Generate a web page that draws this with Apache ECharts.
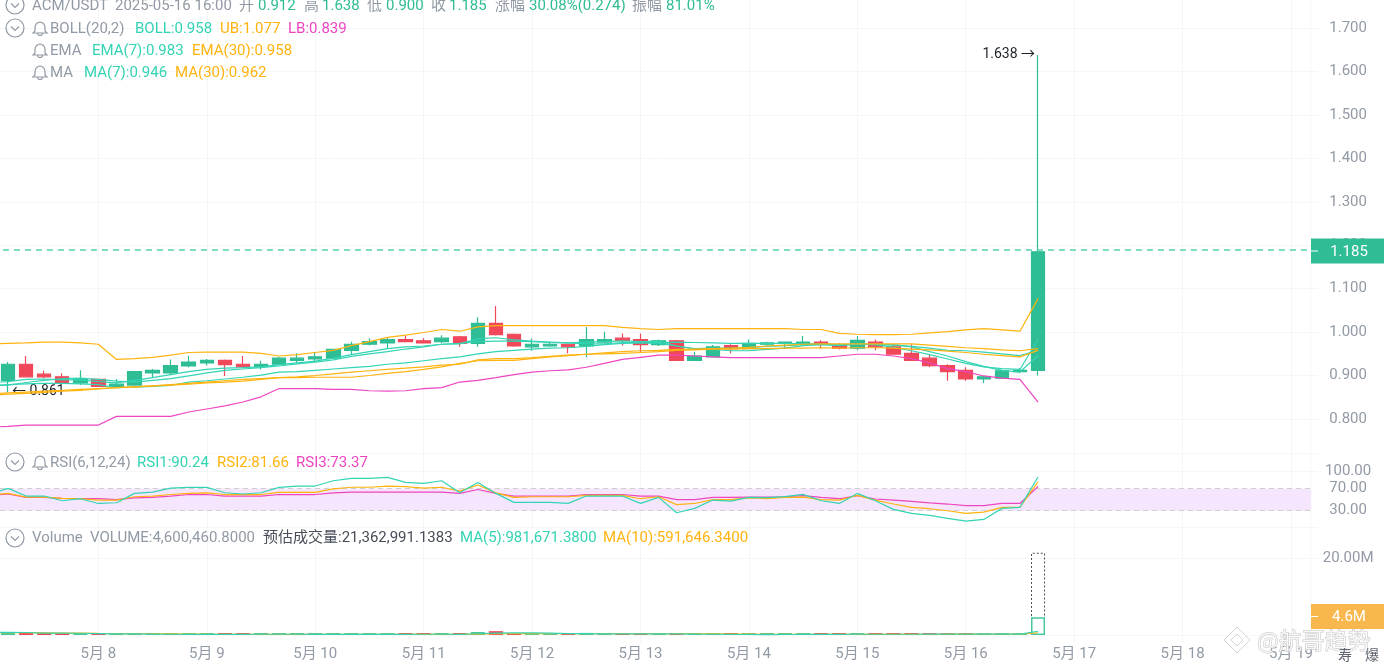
<!DOCTYPE html>
<html>
<head>
<meta charset="utf-8">
<style>html,body{margin:0;padding:0;background:#fff}#main{width:1384px;height:666px}</style>
<script src="https://cdn.jsdelivr.net/npm/echarts@6/dist/echarts.min.js"></script>
</head>
<body>
<div id="main"></div>
<script>
// 4h candles, first one sits just off the left edge
var days = [7, 8, 9, 10, 11, 12, 13, 14, 15, 16, 17, 18, 19];
var opens = [.880,
  .889,.926,.903,.897,.883,.891,.875,.878,.906,.906,
  .922,.929,.935,.926,.921,.926,.935,.938,.940,.958,
  .972,.975,.983,.980,.978,.989,.974,1.020,.995,.966,
  .968,.972,.968,.977,.986,.983,.971,.980,.935,.943,
  .969,.962,.972,.974,.972,.977,.971,.963,.977,.966,
  .951,.940,.923,.912,.892,.894,.909,.912];
var closes = [.889,
  .926,.897,.897,.883,.891,.875,.880,.909,.912,.923,
  .931,.935,.925,.920,.926,.940,.940,.943,.960,.972,
  .978,.983,.978,.975,.986,.974,1.020,.994,.968,.972,
  .972,.966,.983,.983,.981,.971,.980,.935,.945,.966,
  .962,.974,.975,.977,.977,.972,.963,.981,.966,.949,
  .935,.923,.909,.892,.897,.911,.912,1.185];
var lows = [.876,
  .861,.897,.894,.882,.878,.874,.872,.877,.895,.903,
  .919,.923,.899,.919,.914,.926,.929,.931,.939,.949,
  .969,.962,.977,.974,.975,.966,.966,.992,.966,.957,
  .966,.951,.942,.975,.969,.952,.968,.935,.934,.942,
  .951,.962,.969,.962,.969,.962,.960,.958,.958,.949,
  .935,.919,.888,.888,.883,.893,.905,.900];
var highs = [.892,
  .931,.945,.911,.905,.912,.892,.892,.909,.915,.937,
  .945,.938,.937,.945,.934,.943,.951,.954,.961,.978,
  .986,.988,.992,.986,.993,.991,1.034,1.060,.997,.985,
  .978,.974,1.012,1.001,.997,.997,.983,.982,.955,.970,
  .972,.983,.978,.978,.991,.981,.975,.991,.983,.972,
  .972,.947,.926,.919,.899,.914,.917,1.638];

var bollUb = [.973,
  .974,.975,.977,.977,.975,.972,.937,.939,.942,.947,
  .953,.954,.954,.954,.951,.945,.948,.953,.958,.969,
  .978,.988,.993,.999,1.006,1.002,1.012,1.015,1.015,1.015,
  1.015,1.015,1.015,1.015,1.011,1.008,1.006,1.008,1.008,1.008,
  1.008,1.008,1.008,1.008,1.006,1.006,.997,.995,.994,.994,
  .995,.998,1.001,1.005,1.008,1.005,1.002,1.077];
var bollLb = [.781,
  .783,.786,.786,.786,.786,.786,.806,.806,.806,.806,
  .816,.823,.830,.839,.851,.870,.870,.870,.868,.868,
  .865,.864,.865,.870,.872,.885,.889,.895,.902,.908,
  .911,.913,.919,.928,.937,.942,.947,.947,.945,.943,
  .941,.941,.941,.941,.941,.941,.945,.949,.949,.945,
  .939,.929,.916,.909,.899,.894,.891,.839];
var bollMid = [.877,
  .879,.881,.882,.882,.881,.879,.872,.873,.875,.877,
  .885,.888,.892,.896,.901,.908,.909,.912,.915,.918,
  .921,.926,.929,.934,.939,.943,.950,.955,.958,.961,
  .963,.964,.967,.971,.974,.975,.976,.977,.976,.975,
  .974,.974,.974,.974,.973,.973,.971,.972,.971,.970,
  .967,.963,.958,.957,.954,.950,.946,.958];
var ema7 = [.884,
  .886,.891,.892,.890,.890,.886,.883,.889,.895,.902,
  .909,.914,.917,.918,.920,.925,.929,.933,.940,.948,
  .955,.962,.966,.968,.972,.973,.985,.987,.982,.979,
  .977,.975,.977,.978,.980,.978,.979,.968,.962,.963,
  .963,.965,.967,.969,.971,.971,.969,.972,.971,.965,
  .957,.948,.938,.928,.920,.916,.914,.983];
var ma7 = [.876,
  .878,.884,.889,.893,.894,.891,.887,.885,.889,.893,
  .899,.906,.912,.915,.918,.922,.927,.931,.936,.944,
  .950,.955,.961,.966,.972,.974,.978,.979,.979,.978,
  .976,.975,.973,.973,.976,.975,.974,.968,.961,.960,
  .957,.957,.960,.963,.969,.971,.971,.972,.972,.971,
  .966,.955,.945,.932,.921,.912,.908,.946];
var ema30 = [.858,
  .860,.862,.864,.866,.868,.870,.872,.874,.876,.879,
  .882,.885,.888,.891,.893,.895,.897,.900,.904,.908,
  .911,.914,.917,.920,.924,.926,.936,.939,.939,.941,
  .944,.947,.949,.950,.951,.953,.955,.958,.959,.961,
  .961,.962,.962,.963,.963,.964,.963,.964,.964,.963,
  .961,.959,.956,.953,.949,.946,.943,.958];
var ma30 = [.855,
  .857,.859,.861,.864,.866,.869,.872,.874,.876,.878,
  .880,.883,.885,.887,.891,.895,.895,.896,.896,.896,
  .900,.905,.909,.914,.920,.928,.934,.935,.935,.939,
  .943,.946,.949,.952,.955,.957,.958,.960,.961,.962,
  .963,.965,.968,.970,.972,.973,.973,.973,.973,.973,
  .973,.970,.967,.964,.962,.959,.957,.962];

var rsi1 = [60,
  70,56.3,56.3,47.9,51.5,43,44.3,61,63.4,70.6,
  71.8,71.8,62.2,59.9,62.2,71.8,74.2,74.2,83.7,87.9,
  87.9,89.7,80.7,79,83.7,62.2,80.7,61,44.9,44.9,
  44.9,43.1,56.3,56.3,56.3,43.1,53.9,26.4,34.2,49.1,
  47.3,53.9,53.3,55.1,59.3,47.9,43.1,61,47.9,32.4,
  25.2,21.6,16.3,11.5,14.5,34.2,36,90.24];
var rsi2 = [58,
  61,54.5,54.5,52,51.5,49,49,55,56,59,
  61,62,59,59,59,63,63,63,69,72,
  72,74,73,70.6,72,65,76,62,54,55,
  55,55,57.5,57.5,57.5,51.5,55,41,43,50,
  50,53,51.5,54,54.5,50,49,57.5,49,42,
  36,33.6,30,25.2,27.6,36,36.5,81.66];
var rsi3 = [57,
  60,54,54,52,51.5,51.5,50,53,54,56,
  59,59,56,56,56,59,59,59,62,63.4,
  63.4,63.4,63.4,63.4,63.4,61,68,61,56,56,
  56,56,59,59,59,56,56,50,50,54,
  54,54.5,54.5,55,57,54,51.5,57,51,49,
  46.7,44,42,39,39,43,43,73.37];

// volume in millions
var volume = [.5,
  .5,.65,.35,.3,.25,.35,.28,.25,.12,.15,
  .1,.15,.2,.25,.15,.2,.15,.15,.18,.2,
  .18,.15,.2,.22,.15,.2,.8,1.0,.3,.18,
  .15,.2,.55,.25,.2,.25,.2,.3,.15,.1,
  .1,.1,.12,.15,.18,.2,.2,.18,.2,.18,
  .22,.22,.25,.25,.2,.2,.2,4.6];
var volEstimate = 21.36;
var volMa5 = [.7,
  .7,.65,.5,.48,.45,.38,.3,.28,.24,.2,
  .18,.16,.15,.17,.19,.2,.19,.17,.17,.18,
  .18,.18,.18,.19,.19,.18,.32,.48,.53,.53,
  .5,.38,.35,.27,.3,.28,.28,.27,.24,.19,
  .16,.13,.12,.13,.14,.16,.18,.19,.19,.2,
  .2,.22,.23,.23,.23,.23,.22,.98];
var volMa10 = [.6,
  .6,.6,.55,.5,.47,.42,.38,.34,.32,.3,
  .25,.22,.2,.18,.17,.17,.17,.17,.17,.18,
  .18,.18,.18,.18,.18,.18,.24,.32,.34,.35,
  .35,.35,.36,.37,.38,.38,.38,.37,.33,.3,
  .26,.23,.2,.18,.17,.16,.16,.16,.16,.17,
  .18,.2,.21,.21,.21,.22,.22,.59];

var GREEN = '#2ebd94', RED = '#f0485a', TEAL = '#33d4b4', ORANGE = '#ffb30f', PINK = '#ee45c0';
var GRAY = '#929aa5', GRID = '#f5f6f7', DARK = '#1e2329';
var FONT = 'Roboto, "Noto Sans CJK SC", sans-serif';

var categories = [];
days.forEach(function (d) {
  for (var h = 0; h < 6; h++) categories.push(h === 0 ? '5月 ' + d : d + '-' + h);
});
categories = categories.slice(0, 74);

function dayTick(i) { return i > 0 && i % 6 === 0; }

var candles = opens.map(function (o, i) { return [o, closes[i], lows[i], highs[i]]; });
var volBars = volume.map(function (v, i) {
  var up = closes[i] >= opens[i];
  return {
    value: v,
    itemStyle: up ? {color: '#fff', borderColor: '#49c6a2', borderWidth: 1.5} : {color: RED}
  };
});
var estimate = volume.map(function (v, i) { return i === volume.length - 1 ? volEstimate : '-'; });

function xAxis(grid, show) {
  return {
    type: 'category', gridIndex: grid, data: categories, boundaryGap: true,
    axisLine: {show: show, lineStyle: {color: GRID}},
    axisTick: {show: false},
    axisLabel: {show: show, interval: dayTick, color: GRAY, fontSize: 15, fontFamily: FONT, margin: 4},
    splitLine: {show: true, alignWithLabel: true, interval: dayTick, lineStyle: {color: GRID}}
  };
}

function yAxis(grid, o) {
  return Object.assign({
    type: 'value', gridIndex: grid, position: 'right', scale: false,
    axisLine: {show: false}, axisTick: {show: false},
    splitLine: {show: true, lineStyle: {color: GRID}}
  }, o);
}

function label(fmt, extra) {
  return Object.assign({
    color: GRAY, fontSize: 15, fontFamily: FONT, align: 'center', margin: 30, formatter: fmt
  }, extra || {});
}

function line(name, data, color, xi, width) {
  return {
    name: name, type: 'line', xAxisIndex: xi, yAxisIndex: xi, data: data, symbol: 'none',
    silent: true, lineStyle: {color: color, width: width || 1.2}, z: 5
  };
}

// header rows
function text(x, y, str, color) {
  return {
    type: 'text', x: x, y: y + 1, z: 100, silent: true,
    style: {text: str, fill: color || GRAY, font: '15px ' + FONT, verticalAlign: 'middle'}
  };
}
function chevron(y) {
  return {
    type: 'group', x: 15, y: y, silent: true, children: [
      {type: 'circle', z: 100, shape: {cx: 0, cy: 0, r: 9}, style: {fill: 'none', stroke: GRAY, lineWidth: 1.2}},
      {type: 'polyline', z: 100, shape: {points: [[-4, -1.5], [0, 2.5], [4, -1.5]]}, style: {fill: 'none', stroke: GRAY, lineWidth: 1.2}}
    ]
  };
}
function bell(y) {
  return {
    type: 'group', x: 40, y: y, silent: true, children: [
      {type: 'polygon', z: 100, shape: {points: [[-7, 5], [-5, 3], [-5, -1], [-4, -4], [-2, -5.5], [0, -6], [2, -5.5], [4, -4], [5, -1], [5, 3], [7, 5]]},
        style: {fill: 'none', stroke: GRAY, lineWidth: 1.2}},
      {type: 'arc', z: 100, shape: {cx: 0, cy: 5, r: 2.5, startAngle: 0, endAngle: Math.PI, clockwise: true},
        style: {fill: 'none', stroke: GRAY, lineWidth: 1.2}}
    ]
  };
}
function tag(y, h, color, str) {
  return {
    type: 'group', x: 1311, y: y, silent: true, children: [
      {type: 'rect', z: 100, shape: {x: 0, y: -h / 2, width: 73, height: h}, style: {fill: color}},
      {type: 'line', z: 101, shape: {x1: 0, y1: 0, x2: 7, y2: 0}, style: {stroke: '#fff', lineWidth: 1}},
      {type: 'text', z: 101, x: 38, y: 1, style: {text: str, fill: '#fff', font: '15px ' + FONT, align: 'center', verticalAlign: 'middle'}}
    ]
  };
}

var graphics = [
  {type: 'line', z: 1, silent: true, shape: {x1: 1311, y1: 0, x2: 1311, y2: 642}, style: {stroke: GRID, lineWidth: 1}},
  chevron(5), chevron(28), chevron(462), chevron(538),
  bell(28), bell(50), bell(72), bell(462),
  text(32, 5, 'ACM/USDT'), text(115, 5, '2025-05-16 16:00'),
  text(239, 5, '开'), text(258, 5, '0.912', GREEN),
  text(304, 5, '高'), text(322, 5, '1.638', GREEN),
  text(367, 5, '低'), text(386, 5, '0.900', GREEN),
  text(431, 5, '收'), text(449, 5, '1.185', GREEN),
  text(495, 5, '涨幅'), text(529, 5, '30.08%(0.274)', GREEN),
  text(632, 5, '振幅'), text(666, 5, '81.01%', GREEN),
  text(50, 28, 'BOLL(20,2)'), text(135, 28, 'BOLL:0.958', TEAL), text(220, 28, 'UB:1.077', ORANGE), text(288, 28, 'LB:0.839', PINK),
  text(50, 50, 'EMA'), text(92, 50, 'EMA(7):0.983', TEAL), text(192, 50, 'EMA(30):0.958', ORANGE),
  text(50, 72, 'MA'), text(84, 72, 'MA(7):0.946', TEAL), text(175, 72, 'MA(30):0.962', ORANGE),
  text(50, 462, 'RSI(6,12,24)'), text(137, 462, 'RSI1:90.24', TEAL), text(217, 462, 'RSI2:81.66', ORANGE), text(296, 462, 'RSI3:73.37', PINK),
  text(32, 537, 'Volume'), text(90, 537, 'VOLUME:4,600,460.8000'),
  text(263, 537, '预估成交量:21,362,991.1383', '#474d57'),
  text(460, 537, 'MA(5):981,671.3800', TEAL), text(603, 537, 'MA(10):591,646.3400', ORANGE),
  tag(251, 25, GREEN, '1.185'), tag(616.5, 25, '#f9b84e', '4.6M'),
  // watermark
  {type: 'polygon', z: 100, silent: true, shape: {points: [[1237, 627], [1250, 640], [1237, 653], [1224, 640]]},
    style: {fill: 'rgba(255,255,255,.85)', stroke: '#d5d5d5', lineWidth: 1}},
  {type: 'polygon', z: 100, silent: true, shape: {points: [[1237, 634], [1243, 640], [1237, 646], [1231, 640]]},
    style: {fill: '#fff', stroke: '#d5d5d5', lineWidth: 1}},
  {type: 'text', x: 1257, y: 640, z: 100, silent: true,
    style: {text: '@航哥趋势', fill: 'rgba(255,255,255,.8)', stroke: '#c4c4c4', lineWidth: 1, font: '23px "Noto Sans CJK SC"', verticalAlign: 'middle'}},
  {type: 'text', x: 1338, y: 655, z: 100, silent: true,
    style: {text: '寿', fill: '#5f6670', font: '14px "Noto Sans CJK SC"', verticalAlign: 'middle'}},
  {type: 'text', x: 1365, y: 655, z: 100, silent: true,
    style: {text: '爆', fill: '#5f6670', font: '14px "Noto Sans CJK SC"', verticalAlign: 'middle'}}
];

var chart = echarts.init(document.getElementById('main'));
chart.setOption({
  animation: false,
  backgroundColor: '#fff',
  grid: [
    {left: -19.07, width: 1337.18, top: -15.4, height: 477.8, outerBoundsMode: 'none'},
    {left: -19.07, width: 1337.18, top: 453, height: 74.5, outerBoundsMode: 'none'},
    {left: -19.07, width: 1337.18, top: 527.2, height: 115.5, outerBoundsMode: 'none'},
    {left: 0, width: 1311, top: 453, height: 74.5, outerBoundsMode: 'none'}
  ],
  xAxis: [xAxis(0, false), xAxis(1, false), xAxis(2, true),
    {type: 'value', gridIndex: 3, min: 0, max: 1, show: false}],
  yAxis: [
    yAxis(0, {min: 0.7, max: 1.8, interval: 0.1,
      splitLine: {show: true, showMinLine: false, showMaxLine: false, lineStyle: {color: GRID}},
      axisLabel: label(function (v) { return v.toFixed(3); }, {showMinLabel: false, showMaxLabel: false})}),
    yAxis(1, {min: 0, max: 133.3,
      axisTick: {show: false, customValues: [0, 100, 133.3]},
      axisLabel: label(function (v) { return v.toFixed(2); }, {customValues: [30, 70, 100], padding: [4, 0, 0, 0]})}),
    yAxis(2, {min: -2, max: 28,
      axisTick: {show: false, customValues: [0, 20]},
      axisLabel: label(function (v) { return v.toFixed(2) + 'M'; }, {customValues: [20]})}),
    {type: 'value', gridIndex: 3, min: 0, max: 133.3, show: false}
  ],
  graphic: graphics,
  series: [
    {
      type: 'line', xAxisIndex: 3, yAxisIndex: 3, data: [], silent: true, z: 1,
      markArea: {silent: true, itemStyle: {color: '#f5e6fd'}, data: [[{yAxis: 30}, {yAxis: 70}]]},
      markLine: {silent: true, symbol: 'none', label: {show: false},
        lineStyle: {color: '#cfcfcf', type: [5, 4], width: 1.2}, data: [{yAxis: 30}, {yAxis: 70}]}
    },
    {
      name: 'K', type: 'candlestick', xAxisIndex: 0, yAxisIndex: 0, data: candles, barWidth: 14, z: 3,
      silent: true,
      itemStyle: {color: GREEN, color0: RED, borderColor: GREEN, borderColor0: RED, borderWidth: 1.2},
      markLine: {
        silent: true, symbol: 'none', label: {show: false},
        lineStyle: {color: '#56cfad', type: [6, 5], width: 1.5},
        data: [{yAxis: closes[closes.length - 1]}]
      },
      markPoint: {
        silent: true, symbol: 'circle', symbolSize: 0,
        data: [
          {coord: [58, 1.638], label: {show: true, position: 'left', distance: 3, formatter: '1.638 →', color: DARK, fontSize: 14, fontFamily: FONT}},
          {coord: [1, 0.861], label: {show: true, position: 'right', distance: 4, offset: [0, -1], formatter: '← 0.861', color: DARK, fontSize: 14, fontFamily: FONT}}
        ]
      }
    },
    line('UB', bollUb, ORANGE, 0),
    line('LB', bollLb, PINK, 0),
    line('BOLL', bollMid, TEAL, 0),
    line('EMA7', ema7, TEAL, 0),
    line('MA7', ma7, TEAL, 0),
    line('EMA30', ema30, ORANGE, 0),
    line('MA30', ma30, ORANGE, 0),
    line('RSI3', rsi3, PINK, 1),
    line('RSI2', rsi2, ORANGE, 1),
    line('RSI1', rsi1, TEAL, 1),
    {
      name: 'estimate', type: 'bar', xAxisIndex: 2, yAxisIndex: 2, data: estimate, barWidth: 14, barGap: '-100%', silent: true, z: 2,
      itemStyle: {color: 'transparent', borderColor: '#474d57', borderWidth: 1, borderType: [2, 2]}
    },
    {
      name: 'VOLUME', type: 'bar', xAxisIndex: 2, yAxisIndex: 2, data: volBars, barWidth: 14, barGap: '-100%', barMinHeight: 2, silent: true, z: 3
    },
    line('VolMA10', volMa10, ORANGE, 2),
    line('VolMA5', volMa5, TEAL, 2)
  ]
});
</script>
</body>
</html>
